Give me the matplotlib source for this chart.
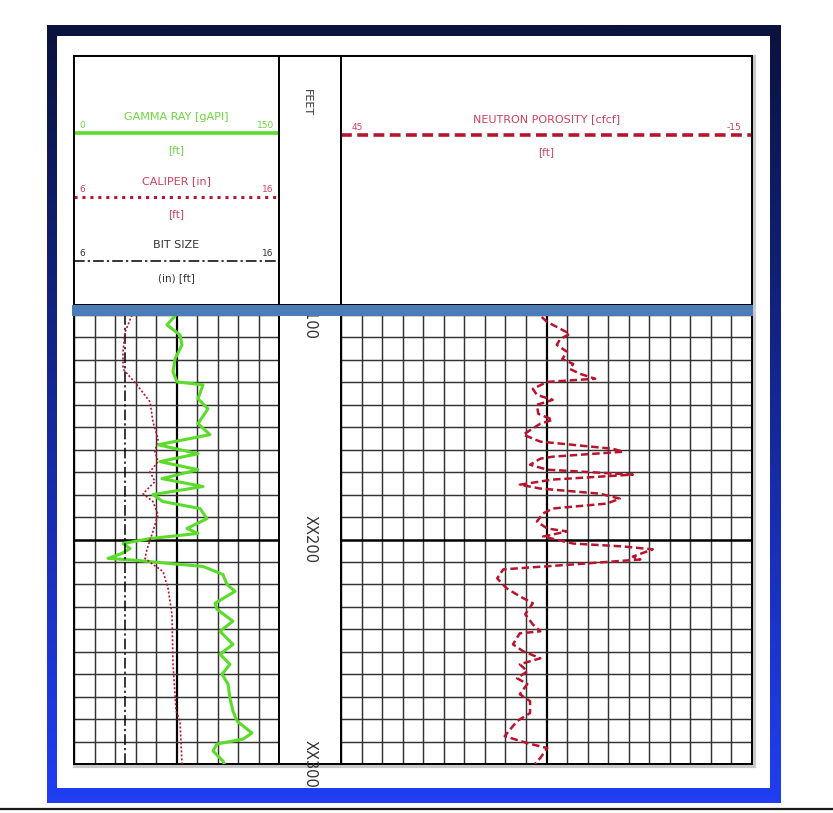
import numpy as np
import matplotlib
matplotlib.use("Agg")
import matplotlib.pyplot as plt
from matplotlib.patches import Rectangle

# ---- data (depth in ft below XX000) ----
gr_depth = [100.0, 104.4, 108.9, 113.3, 119.6, 125.3, 129.8, 131.1, 137.3, 141.8,
            148.4, 153.3, 157.8, 161.8, 165.3, 168.9, 172.9, 176.4, 180.0, 183.1,
            186.2, 190.7, 195.1, 197.3, 199.6, 201.8, 204.0, 206.2, 208.4, 209.3,
            210.7, 212.0, 215.6, 220.0, 223.1, 228.4, 231.1, 236.4, 240.9, 246.7,
            251.1, 255.6, 260.0, 264.4, 270.7, 276.4, 280.9, 286.2, 288.9, 291.1,
            294.2, 298.7, 300.0]
gr_api = [74.6, 68.0, 77.6, 79.0, 73.9, 72.4, 75.4, 94.4, 90.7, 98.0,
          90.7, 99.5, 61.5, 90.7, 62.9, 90.7, 64.4, 94.4, 57.8, 65.1,
          92.2, 97.3, 82.7, 90.7, 55.6, 35.9, 41.0, 35.1, 24.9, 46.1,
          70.2, 94.4, 109.0, 111.9, 117.8, 103.2, 104.6, 116.3, 106.8, 116.3,
          106.8, 114.1, 108.3, 112.7, 114.1, 116.3, 119.3, 130.2, 123.7, 104.6,
          101.7, 109.0, 110.0]

cal_depth = [100.0, 107.6, 116.4, 124.0, 131.1, 138.7, 147.6, 155.1, 160.9, 165.3,
             169.8, 174.2, 179.6, 183.1, 188.9, 196.4, 204.4, 208.4, 211.1, 214.2,
             221.8, 233.3, 255.6, 276.4, 280.9, 300.0]
cal_in = [8.83, 8.49, 8.39, 8.39, 9.07, 9.71, 9.85, 10.10, 9.95, 10.10,
          9.71, 9.95, 9.37, 9.85, 10.10, 9.85, 9.56, 9.46, 9.85, 10.34,
          10.59, 10.78, 10.83, 10.98, 11.17, 11.27]

bit_size = 8.5

nphi_depth = [100.9, 103.1, 105.3, 108.4, 110.7, 113.3, 116.4, 119.6, 121.8, 124.0,
              126.2, 128.4, 129.8, 132.9, 135.6, 137.8, 140.0, 144.0, 146.7, 148.4,
              153.3, 156.4, 159.6, 160.9, 163.1, 164.0, 166.7, 168.9, 171.1, 173.3,
              175.6, 177.3, 179.6, 181.8, 184.0, 186.2, 188.4, 192.0, 195.1, 196.4,
              198.7, 201.8, 203.1, 204.4, 207.6, 208.9, 211.1, 213.3, 217.3, 221.8,
              225.3, 228.4, 233.3, 237.8, 240.9, 241.8, 246.7, 249.8, 252.9, 255.6,
              258.7, 261.8, 264.4, 268.9, 272.0, 277.3, 280.9, 287.6, 290.7, 292.9,
              297.3, 300.0]
nphi = [0.157, 0.149, 0.135, 0.116, 0.130, 0.135, 0.120, 0.127, 0.111, 0.116,
        0.101, 0.079, 0.149, 0.170, 0.164, 0.141, 0.164, 0.162, 0.141, 0.159,
        0.184, 0.159, 0.053, 0.038, 0.141, 0.159, 0.174, 0.149, 0.024, 0.141,
        0.189, 0.159, 0.072, 0.043, 0.062, 0.141, 0.155, 0.164, 0.149, 0.120,
        0.155, 0.111, 0.038, -0.005, 0.024, 0.013, 0.111, 0.213, 0.222, 0.208,
        0.189, 0.170, 0.181, 0.170, 0.159, 0.189, 0.199, 0.184, 0.159, 0.189,
        0.178, 0.193, 0.178, 0.189, 0.174, 0.174, 0.193, 0.211, 0.178, 0.149,
        0.159, 0.167]

depth_range = (100, 300)
depth_labels = ["XX100", "XX200", "XX300"]
depth_label_pos = [100, 200, 300]
gr_scale = (0, 150)
cal_scale = (6, 16)
nphi_scale = (0.45, -0.15)

GREEN = "#5cdc2a"
RED = "#b8142e"
RED_TXT = "#d0405c"
GRID = "#333333"

W, H = 833, 813
fig = plt.figure(figsize=(W / 100, H / 100), dpi=100)


def rect(x0, y0, x1, y1):
    return [x0 / W, 1 - y1 / H, (x1 - x0) / W, (y1 - y0) / H]


# ---- background frame ----
bg = fig.add_axes([0, 0, 1, 1], zorder=-5)
t = np.linspace(0, 1, 256)[:, None, None]
top = np.array([10, 18, 62]) / 255
bot = np.array([32, 62, 242]) / 255
grad = top + (bot - top) * t
bg.imshow(grad, extent=(47, 781, 803, 26), aspect="auto", interpolation="bilinear")
bg.add_patch(Rectangle((57, 36), 713, 752, fc="white", ec="none"))
bg.add_patch(Rectangle((75, 57), 679, 709, fill=False, ec="#888888", lw=3, alpha=0.45))
bg.plot([0, W], [809, 809], color="#1a1a1a", lw=1.6)
bg.set_xlim(0, W)
bg.set_ylim(H, 0)
bg.axis("off")


def style_track(ax):
    ax.set_ylim(depth_range[1], depth_range[0])
    ax.set_xticks([])
    ax.set_yticks([])
    for s in ax.spines.values():
        s.set_color("black")
        s.set_linewidth(1.4)


def hgrid(ax):
    for d in range(depth_range[0], depth_range[1] + 1, 10):
        ax.axhline(d, color="black" if d == 200 else GRID,
                   lw=1.8 if d == 200 else 1.05, zorder=1)


# ---- track 1: gamma ray / caliper / bit size ----
ax1 = fig.add_axes(rect(74, 315, 279, 764), zorder=1)
ax1.set_xlim(*gr_scale)
style_track(ax1)
for i, v in enumerate(np.linspace(gr_scale[0], gr_scale[1], 11)):
    ax1.axvline(v, color="black" if i == 5 else GRID, lw=1.6 if i == 5 else 1.05, zorder=1)
hgrid(ax1)
ax1.plot(gr_api, gr_depth, color=GREEN, lw=2.2, zorder=4)

ax1c = ax1.twiny()
ax1c.set_zorder(1.5)
ax1c.set_xlim(*cal_scale)
ax1c.set_ylim(depth_range[1], depth_range[0])
ax1c.set_xticks([])
ax1c.axvline(bit_size, color="black", lw=1.1, ls=(0, (7, 2, 1.5, 2)), zorder=3)
ax1c.plot(cal_in, cal_depth, color=RED, lw=1.2, ls=(0, (1.2, 1.2)), zorder=3)
for s in ax1c.spines.values():
    s.set_visible(False)

# ---- depth track ----
axd = fig.add_axes(rect(279, 315, 341, 764), zorder=1)
style_track(axd)
axd.set_xlim(0, 1)
for lbl, d in zip(depth_labels, depth_label_pos):
    axd.text(0.5, d, lbl, rotation=270, ha="center", va="center",
             fontsize=10.5, color="#333333")

# ---- track 2: neutron porosity ----
ax2 = fig.add_axes(rect(341, 315, 752, 764), zorder=1)
ax2.set_xlim(*nphi_scale)
style_track(ax2)
for i, v in enumerate(np.linspace(nphi_scale[0], nphi_scale[1], 21)):
    ax2.axvline(v, color="black" if i == 10 else GRID, lw=1.6 if i == 10 else 1.05, zorder=1)
hgrid(ax2)
ax2.plot(nphi, nphi_depth, color=RED, lw=1.8, ls=(0, (3, 1.5)), zorder=4)

# ---- headers ----
def header(x0, x1):
    ax = fig.add_axes(rect(x0, 56, x1, 305), zorder=3)
    ax.set_xlim(0, 1)
    ax.set_ylim(1, 0)
    ax.set_xticks([])
    ax.set_yticks([])
    for s in ax.spines.values():
        s.set_color("black")
        s.set_linewidth(1.4)
    return ax


def curve_head(ax, y, title, lo, hi, color, txtcolor, ls, lw, unit):
    ax.text(0.5, y - 0.065, title, ha="center", va="center", fontsize=8, color=txtcolor)
    ax.plot([0, 1], [y, y], color=color, ls=ls, lw=lw, solid_capstyle="butt", clip_on=False)
    ax.text(0.025, y - 0.012, lo, ha="left", va="bottom", fontsize=6.5, color=txtcolor)
    ax.text(0.975, y - 0.012, hi, ha="right", va="bottom", fontsize=6.5, color=txtcolor)
    ax.text(0.5, y + 0.07, unit, ha="center", va="center", fontsize=7.5, color=txtcolor)


h1 = header(74, 279)
curve_head(h1, 0.309, "GAMMA RAY [gAPI]", str(gr_scale[0]), str(gr_scale[1]),
           GREEN, "#6cd83c", "-", 2.6, "[ft]")
curve_head(h1, 0.566, "CALIPER [in]", str(cal_scale[0]), str(cal_scale[1]),
           RED, RED_TXT, (0, (1, 1.6)), 2.2, "[ft]")
curve_head(h1, 0.823, "BIT SIZE", str(cal_scale[0]), str(cal_scale[1]),
           "black", "#333333", (0, (7, 2, 1.5, 2)), 1.1, "(in) [ft]")

hd = header(279, 341)
hd.text(0.45, 0.185, "FEET", rotation=270, ha="center", va="center", fontsize=8, color="#333333")

h2 = header(341, 752)
curve_head(h2, 0.317, "NEUTRON POROSITY [cfcf]", "45", "-15",
           RED, RED_TXT, (0, (3, 1.5)), 2.6, "[ft]")

# blue separator bar between header and tracks
fig.add_artist(Rectangle((72 / W, 1 - 316 / H), 681 / W, 11 / H, transform=fig.transFigure,
                         fc="#4c7cb6", ec="none", zorder=10))

fig.savefig("out.png", dpi=100)
